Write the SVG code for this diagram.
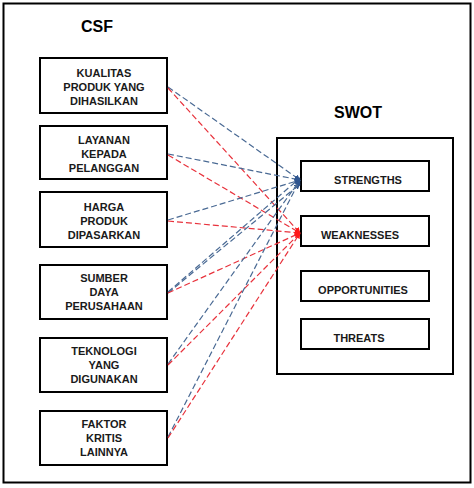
<svg xmlns="http://www.w3.org/2000/svg" width="474" height="488" viewBox="0 0 474 488">
<style>
.box{fill:#fff;stroke:#000;stroke-width:2}
.t{font-family:"Liberation Sans",Arial,sans-serif;font-weight:bold;font-size:11px;fill:#1a1a1a;text-anchor:middle}
.h{font-family:"Liberation Sans",Arial,sans-serif;font-weight:bold;font-size:16px;fill:#000;text-anchor:middle}
.b{stroke:#4a6a94;stroke-width:1.2;fill:none;stroke-dasharray:6 3;marker-end:url(#ab)}
.r{stroke:#e8323c;stroke-width:1.2;fill:none;stroke-dasharray:6 3;marker-end:url(#ar)}
</style>
<defs>
<marker id="ab" viewBox="0 0 10 10" refX="9" refY="5" markerWidth="6" markerHeight="6" orient="auto" markerUnits="userSpaceOnUse"><path d="M0,0 L10,5 L0,10 z" fill="#2f5590"/></marker>
<marker id="ar" viewBox="0 0 10 10" refX="9" refY="5" markerWidth="6" markerHeight="6" orient="auto" markerUnits="userSpaceOnUse"><path d="M0,0 L10,5 L0,10 z" fill="#ff1a1a"/></marker>
</defs>
<rect x="0" y="0" width="474" height="488" fill="#fff"/>
<rect x="3.5" y="3.5" width="467" height="479" fill="none" stroke="#000" stroke-width="2"/>
<text class="h" x="97" y="32">CSF</text>
<g id="swot">
<rect class="box" x="277" y="138" width="176" height="236"/>
<text class="h" x="358" y="118">SWOT</text>
</g>
<g id="csf1"><rect class="box" x="40" y="58" width="127" height="55"/>
<text class="t" x="104" y="77">KUALITAS</text><text class="t" x="104" y="91">PRODUK YANG</text><text class="t" x="104" y="105">DIHASILKAN</text></g>
<g id="csf2"><rect class="box" x="40" y="126" width="127" height="53"/>
<text class="t" x="104" y="144">LAYANAN</text><text class="t" x="104" y="158">KEPADA</text><text class="t" x="104" y="172">PELANGGAN</text></g>
<g id="csf3"><rect class="box" x="40" y="192" width="127" height="55"/>
<text class="t" x="104" y="211">HARGA</text><text class="t" x="104" y="225">PRODUK</text><text class="t" x="104" y="239">DIPASARKAN</text></g>
<g id="csf4"><rect class="box" x="40" y="265" width="127" height="54"/>
<text class="t" x="104" y="282">SUMBER</text><text class="t" x="104" y="296">DAYA</text><text class="t" x="104" y="310">PERUSAHAAN</text></g>
<g id="csf5"><rect class="box" x="40" y="338" width="127" height="54"/>
<text class="t" x="104" y="355">TEKNOLOGI</text><text class="t" x="104" y="369">YANG</text><text class="t" x="104" y="383">DIGUNAKAN</text></g>
<g id="csf6"><rect class="box" x="40" y="411" width="127" height="54"/>
<text class="t" x="104" y="428">FAKTOR</text><text class="t" x="104" y="442">KRITIS</text><text class="t" x="104" y="456">LAINNYA</text></g>
<g id="strengths"><rect class="box" x="301" y="161" width="128" height="30"/><text class="t" x="368" y="184">STRENGTHS</text></g>
<g id="weaknesses"><rect class="box" x="301" y="216" width="128" height="30"/><text class="t" x="360" y="239">WEAKNESSES</text></g>
<g id="opportunities"><rect class="box" x="301" y="271" width="128" height="30"/><text class="t" x="363" y="294">OPPORTUNITIES</text></g>
<g id="threats"><rect class="box" x="301" y="319" width="128" height="30"/><text class="t" x="359" y="342">THREATS</text></g>
<g id="connectors">
<line class="b" x1="168" y1="87" x2="300" y2="180"/>
<line class="r" x1="168" y1="88" x2="300" y2="233"/>
<line class="b" x1="168" y1="154" x2="300" y2="180"/>
<line class="r" x1="168" y1="155" x2="300" y2="233"/>
<line class="b" x1="168" y1="220" x2="300" y2="180"/>
<line class="r" x1="168" y1="221" x2="300" y2="233"/>
<line class="b" x1="168" y1="292" x2="300" y2="178"/>
<line class="b" x1="168" y1="293" x2="300" y2="184"/>
<line class="r" x1="168" y1="293" x2="300" y2="233"/>
<line class="b" x1="168" y1="364" x2="300" y2="180"/>
<line class="r" x1="168" y1="365" x2="300" y2="233"/>
<line class="b" x1="168" y1="437" x2="300" y2="180"/>
<line class="r" x1="168" y1="438" x2="300" y2="233"/>
</g>
</svg>
